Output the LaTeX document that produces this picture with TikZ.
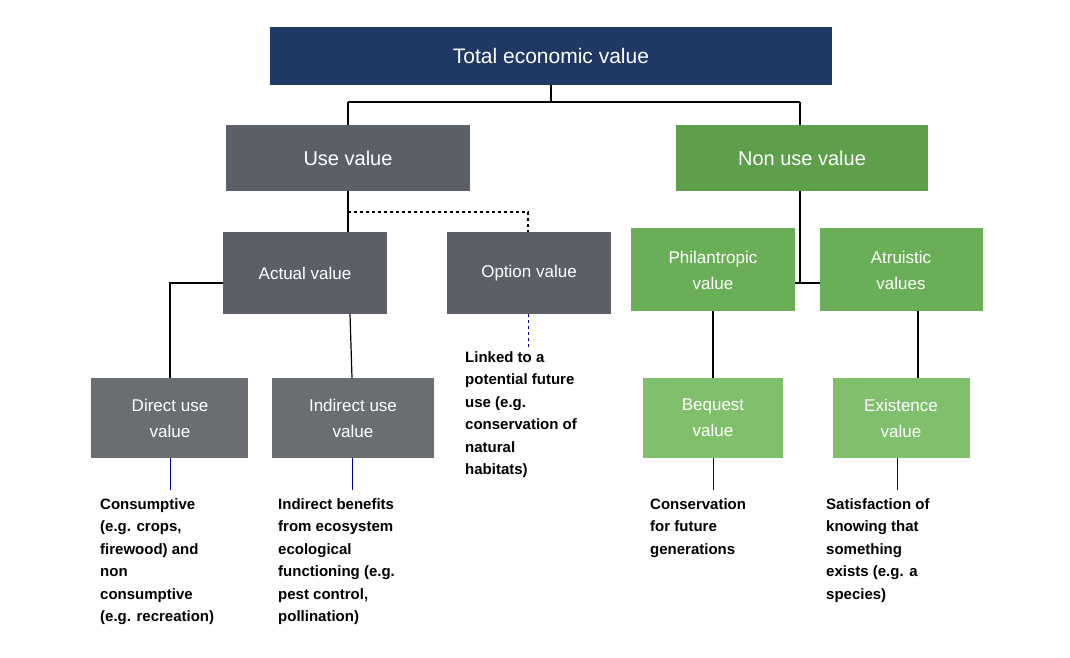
\documentclass[tikz,border=0pt]{standalone}
\usepackage{fontspec}
\setmainfont{Liberation Sans}
\begin{document}
\begin{tikzpicture}[x=1pt,y=-1pt,
 box/.style={draw=none,text=white,align=center,inner sep=0pt},
 note/.style={anchor=north west,align=left,font=\fontsize{15}{22.5}\selectfont\bfseries,inner sep=0pt},
 ln/.style={line width=1.2pt,black},
 bl/.style={line width=1pt,blue!60!black}]
\definecolor{navy}{HTML}{203864}
\definecolor{dgray}{HTML}{5B6068}
\definecolor{mgray}{HTML}{6A6D72}
\definecolor{dgreen}{HTML}{5E9F4C}
\definecolor{mgreen}{HTML}{6AAF57}
\definecolor{lgreen}{HTML}{80C06C}
\useasboundingbox (0,0) rectangle (1070,658);
\fill[navy] (270,27) rectangle (832,85);
\node[box,font=\fontsize{21}{24}\selectfont] (tev) at (551,56) {Total economic value};
\fill[dgray] (226,125) rectangle (470,191);
\node[box,font=\fontsize{20}{24}\selectfont] (use) at (348,158) {Use value};
\fill[dgreen] (676,125) rectangle (928,191);
\node[box,font=\fontsize{20}{24}\selectfont] (non) at (802,158) {Non use value};
\begin{scope}[font=\fontsize{17}{26}\selectfont]
\fill[dgray] (223,232) rectangle (387,314);
\node[box] (act) at (305,273) {Actual value};
\fill[dgray] (447,232) rectangle (611,314);
\node[box] (opt) at (529,273) {Option value};
\fill[mgreen] (631,228) rectangle (795,311);
\node[box] (phi) at (713,270) {Philantropic\\value};
\fill[mgreen] (820,228) rectangle (983,311);
\node[box] (atr) at (901,270) {Atruistic\\values};
\fill[mgray] (91,378) rectangle (248,458);
\node[box] (dir) at (170,418) {Direct use\\value};
\fill[mgray] (272,378) rectangle (434,458);
\node[box] (ind) at (353,418) {Indirect use\\value};
\fill[lgreen] (643,378) rectangle (783,458);
\node[box] (beq) at (713,418) {Bequest\\value};
\fill[lgreen] (833,378) rectangle (970,458);
\node[box] (exi) at (901,418) {Existence\\value};
\end{scope}
% connectors
\coordinate (t1) at (551,85); \coordinate (t2) at (551,102);
\coordinate (l1) at (348,102); \coordinate (r1) at (800,102);
\draw[ln] (t1) -- (t2) (l1) -- (r1);
\draw[ln] (l1) -- (348,125);
\draw[ln] (r1) -- (800,125);
\draw[ln] (348,191) -- (348,232);
\draw[ln,dashed] (348,212) -- (528,212) -- (528,232);
\draw[ln] (800,191) -- (800,283);
\draw[ln] (795,283) -- (820,283);
\draw[ln] (223,283) -- (170,283) -- (170,378);
\draw[ln] (350,314) -- (352,378);
\draw[ln] (713,311) -- (713,378);
\draw[ln] (918,311) -- (918,378);
\draw[bl,dashed] (528,314) -- (528,350);
\coordinate (n1) at (170,490); \coordinate (n2) at (352,490);
\coordinate (n3) at (713,490); \coordinate (n4) at (897,490);
\draw[bl] (170,458) -- (n1);
\draw[bl] (352,458) -- (n2);
\draw[bl] (713,458) -- (n3);
\draw[bl] (897,458) -- (n4);
\node[note] at (100,498) {Consumptive\\(e.g. crops,\\firewood) and\\non\\consumptive\\(e.g. recreation)};
\node[note] at (278,498) {Indirect benefits\\from ecosystem\\ecological\\functioning (e.g.\\pest control,\\pollination)};
\node[note] at (465,351) {Linked to a\\potential future\\use (e.g.\\conservation of\\natural\\habitats)};
\node[note] at (650,498) {Conservation\\for future\\generations};
\node[note] at (826,498) {Satisfaction of\\knowing that\\something\\exists (e.g. a\\species)};
\end{tikzpicture}
\end{document}
